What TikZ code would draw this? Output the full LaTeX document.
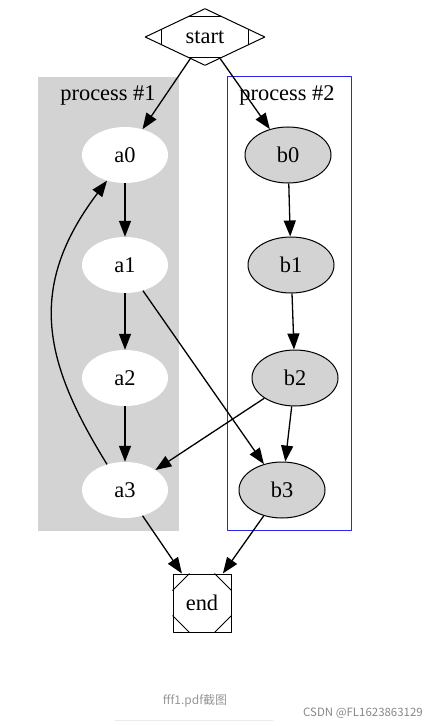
\documentclass[tikz,border=0pt]{standalone}
\usepackage{fontspec}
\setmainfont{Liberation Serif}
\newfontfamily\cjkfont{Noto Sans CJK SC}
\usepackage{tikz}
\usetikzlibrary{arrows.meta, calc, shapes.geometric, positioning}
\definecolor{clustergrey}{RGB}{211,211,211}
\definecolor{clusterblue}{RGB}{40,40,230}
\definecolor{capgrey}{RGB}{150,150,150}

\begin{document}
\begin{tikzpicture}[x=1bp,y=-1bp,>={Triangle[length=16bp,width=12bp]},line join=bevel,
  every node/.style={font=\fontsize{22.5}{26}\selectfont},
  anode/.style={ellipse,fill=white,minimum width=86bp,minimum height=56bp,inner sep=0pt},
  bnode/.style={ellipse,draw=black,fill=clustergrey,line width=1bp,minimum width=86bp,minimum height=56bp,inner sep=0pt},
  startbox/.style={diamond,draw=black,fill=white,line width=1bp,aspect=2.1,minimum width=120bp,minimum height=57bp,inner sep=0pt},
  stopbox/.style={rectangle,draw=black,fill=white,line width=1bp,minimum size=58bp,inner sep=0pt},
  edge/.style={->,line width=1.3bp}]
  \useasboundingbox (0,0) rectangle (434,726);
%%
  % Cluster: process #1
  \fill[clustergrey] (38,77) rectangle (179,531);
  \node (p1) at (108,95) {process \#1};
  % Cluster: process #2
  \draw[clusterblue,line width=1bp] (227,77) rectangle (351,530);
  \node (p2) at (287,95) {process \#2};
  % Node: a0 .. a3
  \node[anode] (a0) at (125,155) {a0};
  \node[anode] (a1) at (125,265) {a1};
  \node[anode] (a2) at (125,378) {a2};
  \node[anode] (a3) at (125,490) {a3};
  % Node: b0 .. b3
  \node[bnode] (b0) at (288,155) {b0};
  \node[bnode] (b1) at (291,265) {b1};
  \node[bnode] (b2) at (295,378) {b2};
  \node[bnode] (b3) at (282,490) {b3};
  % Node: start
  \node[startbox] (start) at (205,37) {start};
  \foreach \c/\p/\q in {west/north/south, east/north/south, north/west/east, south/west/east}
    \draw[line width=1bp] ($(start.\c)!.28!(start.\p)$) -- ($(start.\c)!.28!(start.\q)$);
  % Node: end
  \node[stopbox] (stop) at (202,603) {end};
  \foreach \c/\sx/\sy in {north west/1/1, north east/-1/1, south west/1/-1, south east/-1/-1}
    \draw[line width=1bp] ($(stop.\c)+(0,17*\sy)$) -- ($(stop.\c)+(17*\sx,0)$);
  % Edge: start -- a0, start -- b0
  \draw[edge] (start) -- (a0);
  \draw[edge] (start) -- (b0);
  % Edge: a0 -- a1 -- a2 -- a3
  \draw[edge] (a0) -- (a1);
  \draw[edge] (a1) -- (a2);
  \draw[edge] (a2) -- (a3);
  % Edge: b0 -- b1 -- b2 -- b3
  \draw[edge] (b0) -- (b1);
  \draw[edge] (b1) -- (b2);
  \draw[edge] (b2) -- (b3);
  % Edge: a1 -- b3, b2 -- a3
  \draw[edge] (a1) -- (b3);
  \draw[edge] (b2) -- (a3);
  % Edge: a3 -- a0
  \draw[edge] (a3.125) .. controls (45,364) and (25,289) .. (a0.235);
  % Edge: a3 -- end, b3 -- end
  \draw[edge] (a3) -- (stop);
  \draw[edge] (b3) -- (stop);
  % Caption
  \node[font=\cjkfont\fontsize{12}{14}\selectfont,text=capgrey] (cap) at (195,701) {fff1.pdf截图};
  \draw[black!8,line width=1bp] (115,720) -- (273,720);
  \node[font=\cjkfont\fontsize{11.5}{14}\selectfont,text=capgrey!90!black] (mark) at (363,713) {CSDN @FL1623863129};
%
\end{tikzpicture}
\end{document}
